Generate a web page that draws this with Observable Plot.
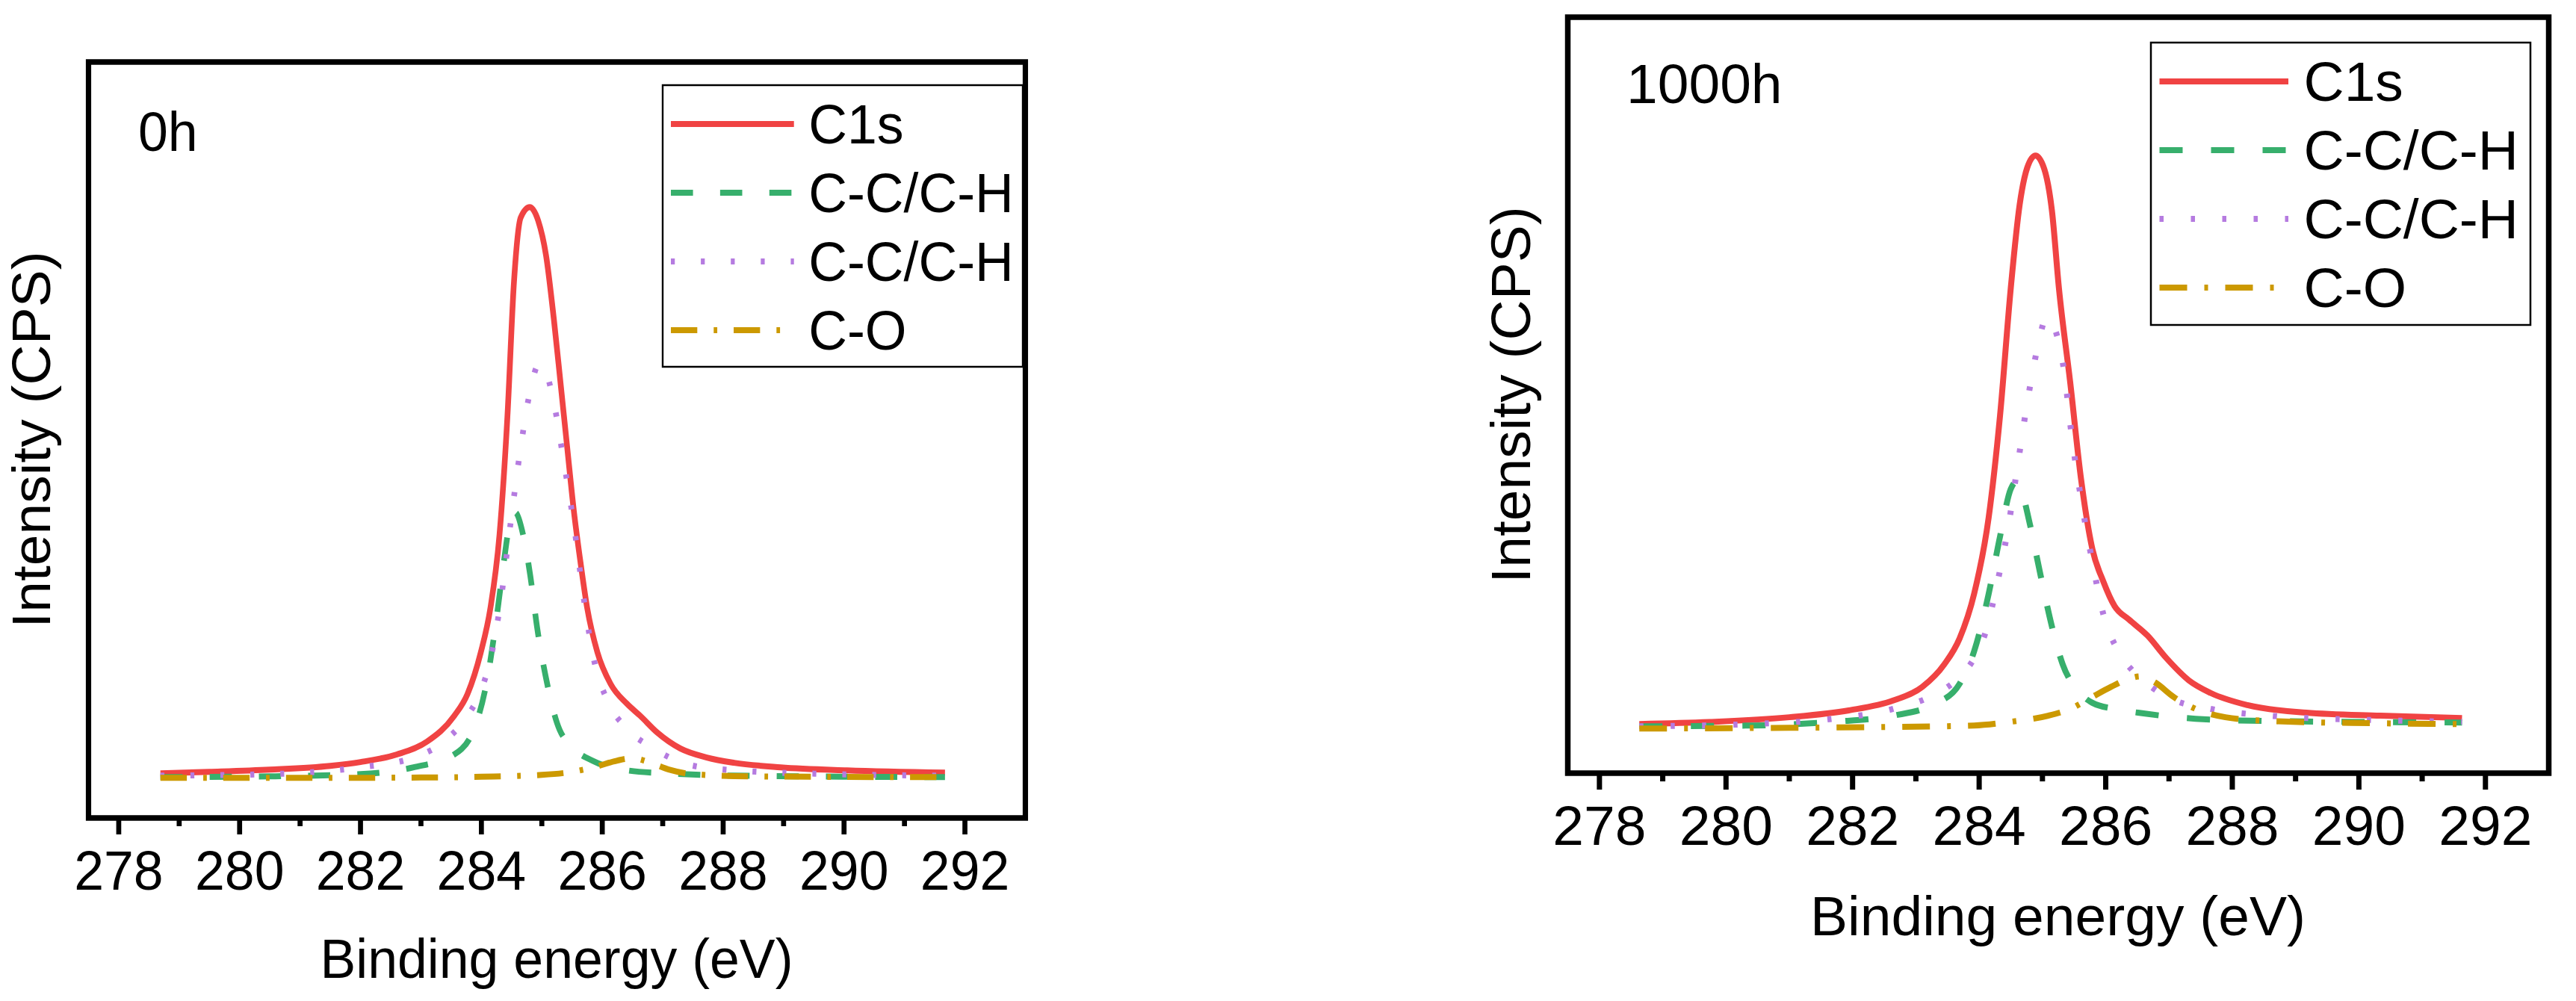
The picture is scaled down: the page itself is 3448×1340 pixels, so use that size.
<!DOCTYPE html>
<html><head><meta charset="utf-8">
<script src="https://cdn.jsdelivr.net/npm/d3@7"></script>
<script src="https://cdn.jsdelivr.net/npm/@observablehq/plot@0.6"></script>
<style>
html,body{margin:0;padding:0;background:#fff;width:3448px;height:1340px;overflow:hidden;}
#wrap{position:relative;width:3448px;height:1340px;background:#fff;}
</style></head>
<body><div id="wrap"></div>
<script>
// ---------- data (binding energy eV, intensity in arbitrary units 0..100) ----------
const energyTicks = [278, 280, 282, 284, 286, 288, 290, 292];
const minorTicks = [279, 281, 283, 285, 287, 289, 291];
const seriesNames = ["C1s", "C-C/C-H", "C-C/C-H", "C-O"];
const panelLabels = ["0h", "1000h"];
const xTitle = "Binding energy (eV)";
const yTitle = "Intensity (CPS)";

const h0_C1s = [[278.69,5.9],[279.5,6.1],[280.5,6.4],[281.5,6.9],[282.0,7.4],[282.6,8.4],[283.1,10.1],[283.55,13.5],[283.77,16.4],[283.99,21.9],[284.15,27.8],[284.3,37.5],[284.43,53.0],[284.54,71.0],[284.65,79.4],[284.8,80.8],[284.94,79.0],[285.07,74.4],[285.2,65.9],[285.31,57.5],[285.42,49.0],[285.53,40.6],[285.64,33.8],[285.75,27.8],[285.92,21.9],[286.14,17.7],[286.41,15.1],[286.63,13.5],[286.91,11.3],[287.29,9.2],[287.73,8.0],[288.18,7.3],[288.95,6.7],[290.05,6.3],[291.67,6.0]];
const h0_CC1 = [[278.69,5.4],[280.5,5.5],[282.0,5.8],[282.88,6.7],[283.55,8.4],[283.88,11.8],[284.1,18.5],[284.26,27.0],[284.37,33.8],[284.47,39.0],[284.56,40.4],[284.7,37.1],[284.81,32.0],[284.92,25.3],[285.09,17.7],[285.25,12.6],[285.53,9.2],[285.86,7.5],[286.41,6.3],[287.07,5.9],[288.18,5.6],[291.67,5.4]];
const h0_CC2 = [[278.69,5.6],[280.5,5.8],[282.0,6.7],[282.88,8.0],[283.44,10.5],[283.77,13.5],[283.99,16.8],[284.15,21.0],[284.32,28.7],[284.48,38.8],[284.65,49.0],[284.81,56.6],[284.95,60.0],[285.05,59.3],[285.2,54.9],[285.36,47.3],[285.53,38.8],[285.7,28.7],[285.86,21.0],[286.08,15.6],[286.41,11.8],[286.85,9.2],[287.4,7.1],[288.18,6.3],[289.83,5.8],[291.67,5.6]];
const h0_CO = [[278.69,5.3],[281.0,5.3],[283.0,5.35],[284.0,5.45],[285.0,5.7],[285.5,6.1],[285.9,6.8],[286.2,7.5],[286.5,7.9],[286.8,7.3],[287.1,6.4],[287.5,5.8],[288.5,5.5],[291.67,5.4]];

const h1000_C1s = [[278.63,6.5],[279.83,6.8],[281.0,7.4],[281.94,8.3],[282.64,9.6],[283.1,11.4],[283.45,14.4],[283.69,17.8],[283.92,23.7],[284.15,33.8],[284.33,47.3],[284.5,64.2],[284.64,75.2],[284.76,80.1],[284.89,81.7],[285.03,79.9],[285.15,74.4],[285.26,64.2],[285.44,51.6],[285.61,38.9],[285.79,29.6],[285.96,25.4],[286.14,22.1],[286.37,20.3],[286.66,18.2],[286.96,15.2],[287.31,12.3],[287.66,10.6],[288.24,9.0],[289.17,8.0],[290.34,7.6],[291.63,7.3]];
const h1000_CC1 = [[278.63,6.2],[280.4,6.3],[281.7,6.8],[282.64,7.6],[283.34,9.3],[283.69,11.8],[283.92,16.1],[284.15,23.7],[284.33,31.3],[284.5,37.6],[284.58,38.5],[284.66,37.6],[284.8,33.0],[284.97,26.2],[285.15,19.4],[285.32,14.4],[285.55,11.0],[285.79,9.3],[286.14,8.5],[286.6,7.9],[287.42,7.2],[288.59,6.9],[291.63,6.7]];
const h1000_CC2 = [[278.63,6.2],[280.4,6.5],[281.7,7.2],[282.64,8.5],[283.34,10.6],[283.69,12.7],[283.92,15.2],[284.1,18.6],[284.27,24.5],[284.45,32.1],[284.62,41.4],[284.76,49.0],[284.91,55.8],[285.07,60.3],[285.2,58.7],[285.34,53.3],[285.46,44.8],[285.61,36.3],[285.79,27.9],[285.96,21.1],[286.2,16.1],[286.43,13.5],[286.72,11.4],[287.07,9.7],[287.66,8.5],[288.59,7.6],[290.34,7.0],[291.63,6.8]];
const h1000_CO = [[278.63,5.9],[281.0,6.0],[282.5,6.1],[283.92,6.3],[284.5,6.8],[285.09,7.6],[285.44,8.5],[285.79,10.1],[286.08,11.4],[286.37,12.5],[286.55,12.8],[286.78,12.0],[287.07,10.1],[287.42,8.5],[287.89,7.4],[288.59,6.9],[290.3,6.6],[291.63,6.5]];

// ---------- styles & layout ----------
const FONT = "'Liberation Sans', Arial, Helvetica, sans-serif";
const FS = 75;
const seriesColors = ["#F04343", "#37AF6C", "#B57BE0", "#CC9900"];
const seriesDash = [null, "31,38", "5.5,36.5", "37,23,5,23"];
const LW = 8;

// layout in page pixels; sx = horizontal compression of the panel
const panels = [
  {label: panelLabels[0], series: [h0_C1s, h0_CC1, h0_CC2, h0_CO], sx: 0.955,
   svgLeft: 0, svgRight: 1400, frameL: 118, frameR: 1372, frameT: 82.5, frameB: 1094.5,
   labelX: 185, labelY: 202, legend: {l: 887, r: 1369, t: 114, b: 491},
   yTitleX: 67, xTitleY: 1309},
  {label: panelLabels[1], series: [h1000_C1s, h1000_CC1, h1000_CC2, h1000_CO], sx: 1,
   svgLeft: 1700, svgRight: 3448, frameL: 2098, frameR: 3411, frameT: 22.5, frameB: 1034.5,
   labelX: 2177, labelY: 138, legend: {l: 2879, r: 3387, t: 57, b: 435},
   yTitleX: 2048, xTitleY: 1252}
];

const wrap = document.getElementById("wrap");

panels.forEach(p => {
  const loc = a => (a - p.svgLeft) / p.sx;
  const W = (p.svgRight - p.svgLeft) / p.sx;
  const marks = [
    Plot.axisX({ticks: energyTicks, tickSize: 22.5, tickPadding: 20, strokeWidth: 7,
      fontSize: FS, label: null, tickFormat: d => String(d)}),
    Plot.axisX({ticks: minorTicks, tickSize: 11.5, strokeWidth: 7, label: null, tickFormat: () => ""})
  ];
  p.series.forEach((s, i) => {
    marks.push(Plot.line(s, {x: d => d[0], y: d => d[1], stroke: seriesColors[i], strokeWidth: LW,
      strokeDasharray: seriesDash[i], strokeLinecap: "butt", strokeLinejoin: "round", curve: "monotone-x"}));
  });
  marks.push(Plot.frame({stroke: "black", strokeWidth: 7.5}));
  const svg = Plot.plot({
    width: W, height: 1340,
    marginLeft: loc(p.frameL), marginRight: W - loc(p.frameR),
    marginTop: p.frameT, marginBottom: 1340 - p.frameB,
    x: {domain: [277.5, 293]},
    y: {domain: [0, 100], axis: null},
    style: {fontFamily: FONT, fontSize: FS + "px", color: "black", background: "transparent", overflow: "visible"},
    marks
  });
  svg.style.position = "absolute";
  svg.style.left = p.svgLeft + "px";
  svg.style.top = "0px";
  svg.style.maxWidth = "none";
  svg.style.transformOrigin = "0 0";
  svg.style.transform = `scaleX(${p.sx})`;
  wrap.appendChild(svg);
});

// ---------- overlay: titles, panel labels, legends ----------
const ov = d3.select(wrap).append("svg")
  .attr("width", 3448).attr("height", 1340)
  .style("position", "absolute").style("left", "0px").style("top", "0px")
  .style("font-family", FONT).style("font-size", FS + "px");

panels.forEach(p => {
  const loc = a => (a - p.svgLeft) / p.sx;
  const g = ov.append("g").attr("transform", `translate(${p.svgLeft},0) scale(${p.sx},1)`);
  const fL = loc(p.frameL), fR = loc(p.frameR);
  g.append("text").attr("x", (fL + fR) / 2).attr("y", p.xTitleY)
    .attr("text-anchor", "middle").attr("fill", "black").text(xTitle);
  g.append("text").attr("transform", `translate(${loc(p.yTitleX)},${(p.frameT + p.frameB) / 2}) rotate(-90)`)
    .attr("text-anchor", "middle").attr("fill", "black").text(yTitle);
  g.append("text").attr("x", loc(p.labelX)).attr("y", p.labelY).attr("fill", "black").text(p.label);
  const L = p.legend, ll = loc(L.l), lr = loc(L.r);
  g.append("rect").attr("x", ll).attr("y", L.t).attr("width", lr - ll).attr("height", L.b - L.t)
    .attr("fill", "white").attr("stroke", "black").attr("stroke-width", 2.5);
  seriesNames.forEach((name, i) => {
    const cy = L.t + 52 + i * 92;
    g.append("line").attr("x1", ll + 11.5).attr("x2", ll + 184).attr("y1", cy).attr("y2", cy)
      .attr("stroke", seriesColors[i]).attr("stroke-width", LW)
      .attr("stroke-dasharray", seriesDash[i]).attr("stroke-linecap", "butt");
    g.append("text").attr("x", ll + 204.5).attr("y", L.t + 78 + i * 92).attr("fill", "black").text(name);
  });
});
</script>
</body></html>
